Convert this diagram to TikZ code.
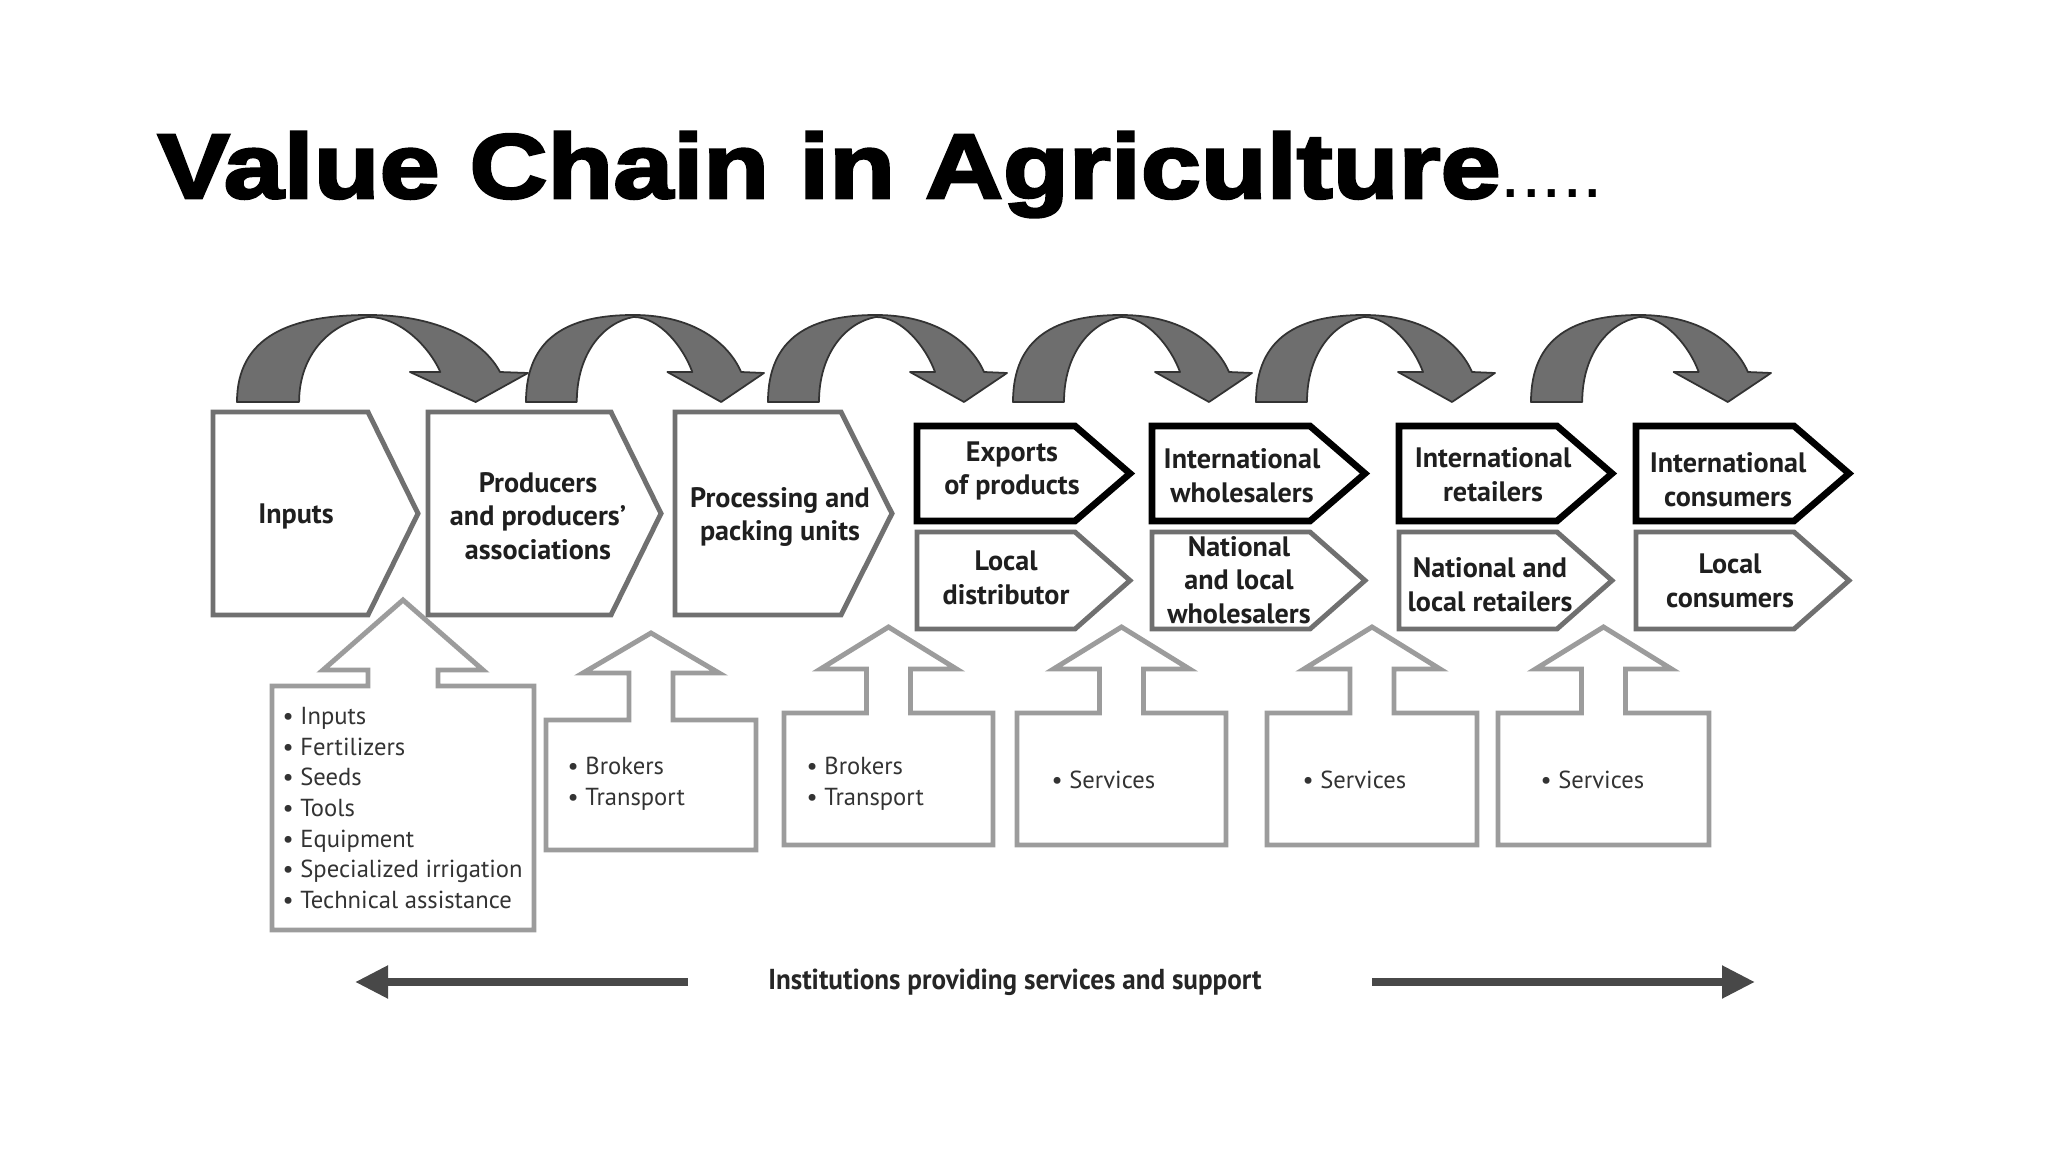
\documentclass[tikz,border=0pt]{standalone}
\usepackage{fontspec}
\setmainfont{PT Sans}
\newfontfamily\titlefont{Liberation Sans}[FakeStretch=1.18,FakeBold=3]
\newfontfamily\dotfont{Liberation Sans}
\newfontfamily\instfont{PT Sans}[FakeStretch=0.94]
\usetikzlibrary{
  arrows.meta,
  calc,
}

\definecolor{arrowgray}{HTML}{6E6E6E}
\definecolor{boxgray}{HTML}{707070}
\definecolor{supgray}{HTML}{9C9C9C}
\definecolor{linegray}{HTML}{484848}

\tikzset{
  bend arrow/.style={fill=arrowgray, draw=black!80, line width=0.5pt, line join=round},
  stage/.style={draw=boxgray, line width=1.4pt, fill=white, line join=miter},
  intl/.style={draw=black, line width=1.9pt, fill=white, line join=miter},
  local/.style={draw=boxgray, line width=1.4pt, fill=white, line join=miter},
  support/.style={draw=supgray, line width=1.4pt, fill=white, line join=miter},
  stagetxt/.style={font=\bfseries\fontsize{8}{9.6}\selectfont, align=center, text=black!88, inner sep=0pt},
  listtxt/.style={font=\fontsize{7}{8.7}\selectfont, align=left, anchor=west, inner sep=0pt, text=black!80},
  flow/.style={draw=linegray, line width=0.08cm, -{Triangle[length=0.33cm,width=0.31cm]}},
}

\begin{document}
\begin{tikzpicture}[x=0.01cm, y=-0.01cm]
  \fill[white] (0,0) rectangle (2048,1152);
  \useasboundingbox (0,0) rectangle (2048,1152);

  \node[anchor=base west, inner sep=0pt] (title) at (157,198)
    {\titlefont\bfseries\fontsize{26}{30}\selectfont Value Chain in Agriculture{\dotfont\mdseries\fontsize{21}{24}\selectfont .....}};

  \foreach \x/\w in {237/291, 526/238, 768/239, 1013/239, 1256/239, 1531/240}{
      \pgfmathsetmacro\sc{\w/239}
      \begin{scope}[shift={(\x,402)}, xscale=\sc]
        \filldraw[bend arrow] (0,0) .. controls (0,-65) and (43,-87) .. (108,-87)
          .. controls (167,-87) and (203,-60) .. (216,-30) -- (239,-29) -- (196,0)
          -- (142,-30) -- (167,-30) .. controls (158,-55) and (134,-85) .. (108,-85)
          .. controls (79,-80) and (51,-50) .. (51,0) -- cycle;
      \end{scope}
    }

  \foreach \lft/\sx/\tipx in {213/368/418, 428/611/661, 675/841/892}{
      \draw[stage] (\lft,412) -- (\sx,412) -- (\tipx,513.5) -- (\sx,615) -- (\lft,615) -- cycle;
    }

  \foreach \lft in {917,1152,1399,1636}{
      \pgfmathsetmacro\tipx{\lft+213}
      \pgfmathsetmacro\sx{\tipx-55}
      \draw[intl] (\lft,426) -- (\sx,426) -- (\tipx,473.5) -- (\sx,521) -- (\lft,521) -- cycle;
      \draw[local] (\lft,532) -- (\sx,532) -- (\tipx,580.5) -- (\sx,629) -- (\lft,629) -- cycle;
    }

  \foreach \lft/\rgt/\tp/\bt/\sh/\hw/\wy/\tipy in {272/534/686/930/35/80/670/600,
      546/756/720/850/22/68/673/633, 784/993/713/845/22/68/669/627,
      1017/1226/713/845/22/68/669/627, 1267/1477/713/845/22/68/669/627,
      1498/1709/713/845/22/68/669/627}{
      \pgfmathsetmacro\cx{(\lft+\rgt)/2}
      \draw[support] (\lft,\tp) -- ({\cx-\sh},\tp) -- ({\cx-\sh},\wy) -- ({\cx-\hw},\wy)
        -- (\cx,\tipy) -- ({\cx+\hw},\wy) -- ({\cx+\sh},\wy) -- ({\cx+\sh},\tp)
        -- (\rgt,\tp) -- (\rgt,\bt) -- (\lft,\bt) -- cycle;
    }

  \node[stagetxt] (inputs) at (296,516) {Inputs};
  \node[stagetxt] (producers) at (538,516) {Producers\\and producers'\\associations};
  \node[stagetxt] (processing) at (780,517) {Processing and\\packing units};
  \node[stagetxt] (exports) at (1012,471) {Exports\\of products};
  \node[stagetxt] (localdist) at (1006,578) {Local\\distributor};
  \node[stagetxt] (intwhole) at (1242,476) {International\\wholesalers};
  \node[stagetxt] (natwhole) at (1239,580) {National\\and local\\wholesalers};
  \node[stagetxt] (intretail) at (1493,475) {International\\retailers};
  \node[stagetxt] (natretail) at (1490,585) {National and\\local retailers};
  \node[stagetxt] (intcons) at (1728,480) {International\\consumers};
  \node[stagetxt] (localcons) at (1730,581) {Local\\consumers};

  \node[listtxt] (inlist) at (282,808) {\textbullet\ Inputs\\\textbullet\ Fertilizers\\\textbullet\ Seeds\\\textbullet\ Tools\\\textbullet\ Equipment\\\textbullet\ Specialized irrigation\\\textbullet\ Technical assistance};
  \node[listtxt] (brokersa) at (567,784) {\textbullet\ Brokers\\\textbullet\ Transport};
  \node[listtxt] (brokersb) at (806,784) {\textbullet\ Brokers\\\textbullet\ Transport};
  \node[listtxt] (servicesa) at (1051,780) {\textbullet\ Services};
  \node[listtxt] (servicesb) at (1302,780) {\textbullet\ Services};
  \node[listtxt] (servicesc) at (1540,780) {\textbullet\ Services};

  \node[font=\instfont\bfseries\fontsize{8.2}{9.6}\selectfont, text=black!85] (inst) at (1015,982) {Institutions providing services and support};
  \coordinate (lstart) at (688,982);
  \coordinate (lend) at (355,982);
  \coordinate (rstart) at (1372,982);
  \coordinate (rend) at (1755,982);
  \draw[flow] (lstart) -- (lend);
  \draw[flow] (rstart) -- (rend);
\end{tikzpicture}
\end{document}
